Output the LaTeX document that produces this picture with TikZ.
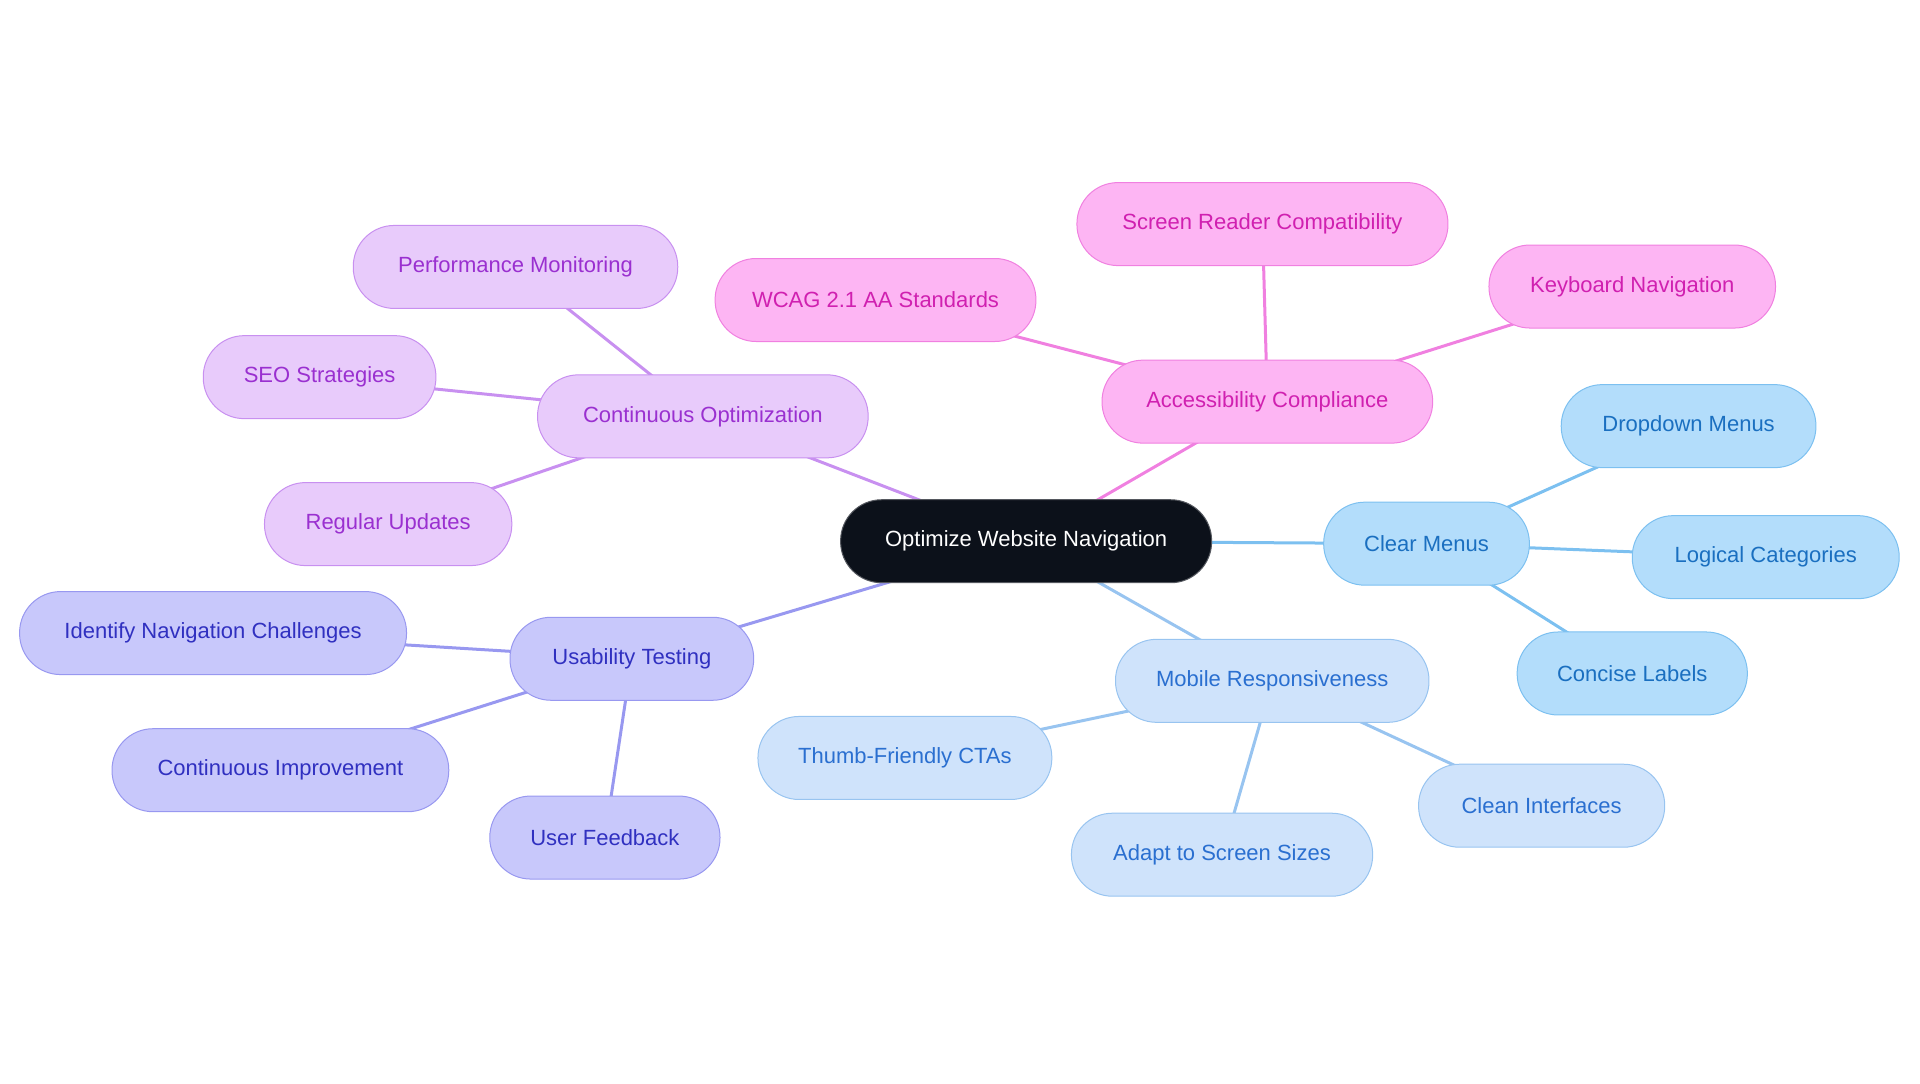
\documentclass[tikz,border=0pt]{standalone}
\usepackage{fontspec}
\setmainfont{Liberation Sans}
\usetikzlibrary{backgrounds}
\definecolor{bF}{HTML}{B3DDFB}\definecolor{bD}{HTML}{7CC0F0}\definecolor{bT}{HTML}{1A6FC0}
\definecolor{lF}{HTML}{CFE3FB}\definecolor{lD}{HTML}{98C4F0}\definecolor{lT}{HTML}{2A6FD0}
\definecolor{pF}{HTML}{FDB5F3}\definecolor{pD}{HTML}{F080E0}\definecolor{pT}{HTML}{D020B0}
\definecolor{vF}{HTML}{E8CBFB}\definecolor{vD}{HTML}{C890F0}\definecolor{vT}{HTML}{9A30D0}
\definecolor{uF}{HTML}{C8C8FB}\definecolor{uD}{HTML}{9898F0}\definecolor{uT}{HTML}{3030C0}
\definecolor{dark}{HTML}{0C111A}
\begin{document}
\begin{tikzpicture}[x=1.2245pt,y=-1.2245pt,
 n/.style={rounded corners=41pt,minimum height=83pt,minimum width={#1*1.2245pt},inner sep=0pt,font=\fontsize{22}{26}\selectfont,line width=1pt},
 B/.style={n=#1,fill=bF,draw=bD,text=bT},
 L/.style={n=#1,fill=lF,draw=lD,text=lT},
 P/.style={n=#1,fill=pF,draw=pD,text=pT},
 V/.style={n=#1,fill=vF,draw=vD,text=vT},
 U/.style={n=#1,fill=uF,draw=uD,text=uT},
 e/.style={line width=3pt}]
\useasboundingbox (0,0) rectangle (1568,884.5);
\node[n=303,fill=dark,draw=dark!70,text=white] (c) at (838,442) {Optimize Website Navigation};
\node[B=168] (cm) at (1165,444) {Clear Menus};
\node[B=208] (dm) at (1379,348) {Dropdown Menus};
\node[B=218] (lc) at (1442,455) {Logical Categories};
\node[B=188] (cl) at (1333,550) {Concise Labels};
\node[L=256] (mr) at (1039,556) {Mobile Responsiveness};
\node[L=240] (tf) at (739,619) {Thumb-Friendly CTAs};
\node[L=246] (as) at (998,698) {Adapt to Screen Sizes};
\node[L=201] (ci) at (1259,658) {Clean Interfaces};
\node[P=270] (ac) at (1035,328) {Accessibility Compliance};
\node[P=262] (wc) at (715,245) {WCAG 2.1 AA Standards};
\node[P=303] (sr) at (1031,183) {Screen Reader Compatibility};
\node[P=234] (kn) at (1333,234) {Keyboard Navigation};
\node[V=270] (co) at (574,340) {Continuous Optimization};
\node[V=265] (pm) at (421,218) {Performance Monitoring};
\node[V=190] (seo) at (261,308) {SEO Strategies};
\node[V=202] (ru) at (317,428) {Regular Updates};
\node[U=199] (ut) at (516,538) {Usability Testing};
\node[U=316] (inc) at (174,517) {Identify Navigation Challenges};
\node[U=275] (cim) at (229,629) {Continuous Improvement};
\node[U=188] (uf) at (494,684) {User Feedback};
\begin{scope}[on background layer]
\draw[e,bD] (c.center)--(cm.center) (cm.center)--(dm.center) (cm.center)--(lc.center) (cm.center)--(cl.center);
\draw[e,lD] (c.center)--(mr.center) (mr.center)--(tf.center) (mr.center)--(as.center) (mr.center)--(ci.center);
\draw[e,pD] (c.center)--(ac.center) (ac.center)--(wc.center) (ac.center)--(sr.center) (ac.center)--(kn.center);
\draw[e,vD] (c.center)--(co.center) (co.center)--(pm.center) (co.center)--(seo.center) (co.center)--(ru.center);
\draw[e,uD] (c.center)--(ut.center) (ut.center)--(inc.center) (ut.center)--(cim.center) (ut.center)--(uf.center);
\end{scope}
\end{tikzpicture}
\end{document}
